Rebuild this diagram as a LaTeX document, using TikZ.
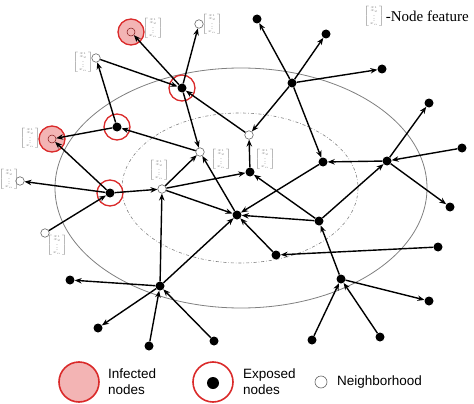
\documentclass[tikz,border=0pt]{standalone}
\usepackage{amsmath}
\usepackage{fontspec}
\setmainfont{Liberation Serif}
\setsansfont{Liberation Sans}
\usetikzlibrary{arrows.meta}

\definecolor{ringred}{RGB}{218,42,42}
\definecolor{infpink}{RGB}{243,180,180}

\newcommand{\featvec}{$\left[\begin{smallmatrix}x_1\\x_2\\\vdots\\x_n\end{smallmatrix}\right]$}

\begin{document}
\begin{tikzpicture}[x=1pt,y=-1pt,
  dot/.style={circle,fill=black,inner sep=0pt,minimum size=9pt},
  nbr/.style={circle,draw=black!60,fill=white,inner sep=0pt,minimum size=8.5pt,line width=0.6pt},
  infcore/.style={circle,draw=ringred!60!black,inner sep=0pt,minimum size=8pt,line width=0.5pt},
  infdisk/.style={circle,draw=ringred,fill=infpink,line width=1.3pt,inner sep=0pt,minimum size=26pt},
  ring/.style={circle,draw=ringred,line width=1.3pt,inner sep=0pt,minimum size=26pt},
  feat/.style={text=black!50,inner sep=0pt,xscale=0.8,yscale=0.55},
  link/.style={-{Stealth[length=7pt,width=5.5pt]},line width=1.4pt},
  lgd/.style={font=\sffamily\fontsize{13.5}{16}\selectfont,align=left,anchor=west,inner sep=0pt}
]
\useasboundingbox (0,0) rectangle (474,404);

% Draw the two neighbourhood rings
\draw[black!50,line width=0.8pt] (241,188) ellipse [x radius=186,y radius=120];
\draw[black!50,line width=0.6pt,dash dot] (240,188) ellipse [x radius=118,y radius=75];

% Infected nodes
\node[infdisk] (i1d) at (131,32) {};
\node[infcore] (i1) at (131,32) {};
\node[infdisk] (i2d) at (52,139) {};
\node[infcore] (i2) at (52,139) {};

% Exposed nodes
\node[ring] (e1r) at (182,88) {};
\node[dot] (e1) at (182,88) {};
\node[ring] (e2r) at (117,127) {};
\node[dot] (e2) at (117,127) {};
\node[ring] (e3r) at (110,193) {};
\node[dot] (e3) at (110,193) {};

% Neighborhood nodes
\node[nbr] (na) at (96,58) {};
\node[nbr] (nb) at (199,24) {};
\node[nbr] (nc) at (20,181) {};
\node[nbr] (nd) at (200,152) {};
\node[nbr] (ne) at (162,189) {};
\node[nbr] (nf) at (45,233) {};
\node[nbr] (ng) at (249,135) {};

% Other nodes
\node[dot] (b1) at (257,19) {};
\node[dot] (b2) at (326,34) {};
\node[dot] (b3) at (292,83) {};
\node[dot] (b4) at (382,69) {};
\node[dot] (b5) at (429,103) {};
\node[dot] (b6) at (462,148) {};
\node[dot] (b7) at (387,161) {};
\node[dot] (b8) at (323,162) {};
\node[dot] (b9) at (250,172) {};
\node[dot] (b10) at (237,215) {};
\node[dot] (b11) at (160,286) {};
\node[dot] (b12) at (70,280) {};
\node[dot] (b13) at (98,328) {};
\node[dot] (b14) at (149,346) {};
\node[dot] (b15) at (214,341) {};
\node[dot] (b16) at (319,221) {};
\node[dot] (b17) at (276,255) {};
\node[dot] (b18) at (438,247) {};
\node[dot] (b19) at (341,279) {};
\node[dot] (b20) at (429,301) {};
\node[dot] (b21) at (312,340) {};
\node[dot] (b22) at (380,337) {};
\node[dot] (b23) at (450,207) {};

% Node features
\node[feat] (fi1) at (153,28) {\featvec};
\node[feat] (fnb) at (212,24) {\featvec};
\node[feat] (fna) at (83,62) {\featvec};
\node[feat] (fi2) at (30,138) {\featvec};
\node[feat] (fnc) at (9,179) {\featvec};
\node[feat] (fne) at (159,170) {\featvec};
\node[feat] (fnd) at (221,159) {\featvec};
\node[feat] (fng) at (265,159) {\featvec};
\node[feat] (fnf) at (57,245) {\featvec};

% Draw the links around the exposed nodes
\draw[link] (e1) -- (i1);
\draw[link] (e1) -- (nb);
\draw[link] (na) -- (e1);
\draw[link] (ng) -- (e1);
\draw[link] (e1) -- (nd);
\draw[link] (e2) -- (na);
\draw[link] (e2) -- (i2);
\draw[link] (nd) -- (e2);
\draw[link] (e3) -- (nc);
\draw[link] (e3) -- (i2);
\draw[link] (e3) -- (ne);
\draw[link] (nf) -- (e3);

% Draw the links of the rest
\draw[link] (ne) -- (nd);
\draw[link] (ne) -- (b10);
\draw[link] (ne) -- (b9);
\draw[link] (b10) -- (nd);
\draw[link] (b11) -- (ne);
\draw[link] (b11) -- (b10);
\draw[link] (b11) -- (b12);
\draw[link] (b11) -- (b13);
\draw[link] (b14) -- (b11);
\draw[link] (b15) -- (b11);
\draw[link] (b9) -- (ng);
\draw[link] (b3) -- (ng);
\draw[link] (b3) -- (b1);
\draw[link] (b3) -- (b2);
\draw[link] (b3) -- (b4);
\draw[link] (b3) -- (b8);
\draw[link] (b7) -- (b8);
\draw[link] (b7) -- (b5);
\draw[link] (b6) -- (b7);
\draw[link] (b7) -- (b23);
\draw[link] (b16) -- (b7);
\draw[link] (b8) -- (b10);
\draw[link] (b16) -- (b9);
\draw[link] (b16) -- (b10);
\draw[link] (b17) -- (b10);
\draw[link] (b18) -- (b17);
\draw[link] (b19) -- (b16);
\draw[link] (b19) -- (b20);
\draw[link] (b21) -- (b19);
\draw[link] (b22) -- (b19);

% Legend
\node[feat] (lgfeat) at (374,16) {\featvec};
\node[anchor=west,inner sep=0pt,font=\fontsize{15}{15}\selectfont] (lgfeatt) at ([xshift=1pt]lgfeat.east) {-Node feature};
\node[infdisk,minimum size=40pt,line width=1.6pt] (lginf) at (79,382) {};
\node[lgd] (lginft) at (108,382) {Infected\\nodes};
\node[ring,minimum size=40pt,line width=1.6pt] (lgexp) at (213,382) {};
\node[dot,minimum size=12pt] (lgexpd) at (213,383) {};
\node[lgd] (lgexpt) at (243,382) {Exposed\\nodes};
\node[nbr,minimum size=12pt] (lgnbr) at (321,382) {};
\node[lgd] (lgnbrt) at (337,382) {Neighborhood};
\end{tikzpicture}
\end{document}
